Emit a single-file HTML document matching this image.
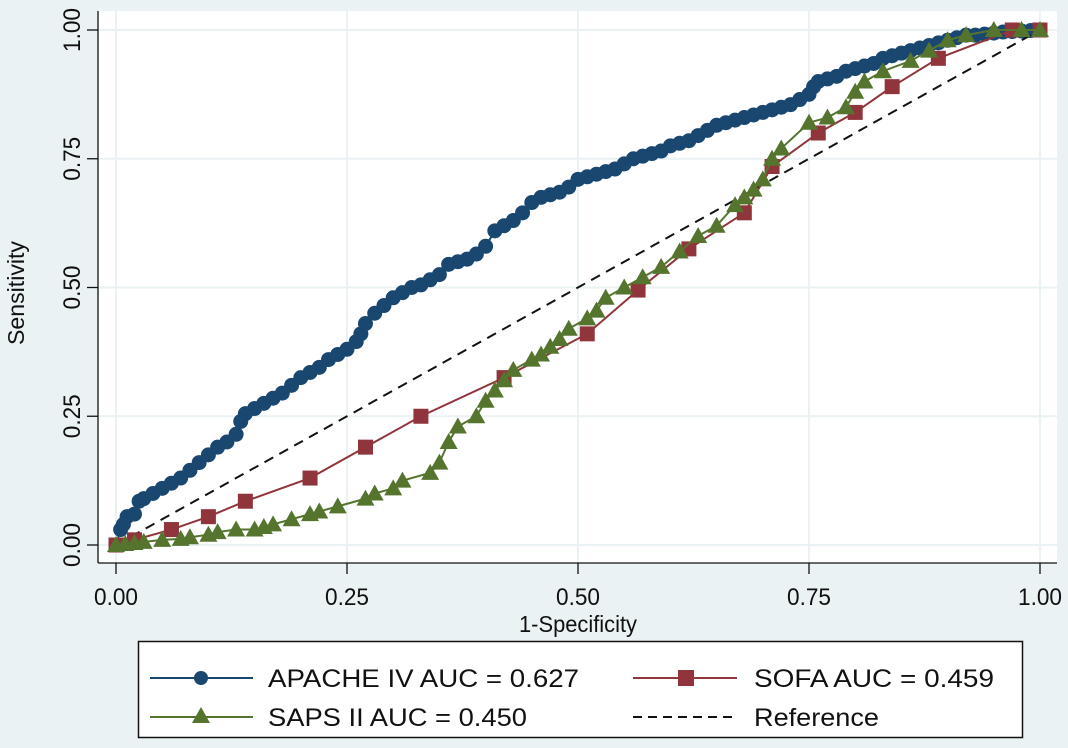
<!DOCTYPE html>
<html><head><meta charset="utf-8"><style>
html,body{margin:0;padding:0;background:#eaf2f3;}
svg{display:block;font-family:"Liberation Sans Narrow","Liberation Sans",sans-serif;}
</style></head><body>
<svg id="chart" width="1068" height="748" viewBox="0 0 1068 748" xmlns="http://www.w3.org/2000/svg">
<rect x="0" y="0" width="1068" height="748" fill="#eaf2f3"/>
<rect x="98" y="11" width="959" height="552" fill="#ffffff"/>
<g id="grid"></g>
<g id="series"></g>
<g id="axes"></g>
<text x="578" y="632" font-size="23" text-anchor="middle" fill="#111" textLength="118" lengthAdjust="spacingAndGlyphs">1-Specificity</text>
<text transform="translate(24,293) rotate(-90)" font-size="23" text-anchor="middle" fill="#111" textLength="104" lengthAdjust="spacingAndGlyphs">Sensitivity</text>
<g>
<rect x="138.5" y="641.5" width="884" height="96" fill="#fff" stroke="#111" stroke-width="1.5"/>
<g>
<line x1="150" y1="678" x2="253" y2="678" stroke="#1a476f" stroke-width="2"/>
<circle cx="201" cy="678" r="7" fill="#1a476f"/>
<text x="268" y="687" font-size="25" fill="#111" textLength="311" lengthAdjust="spacingAndGlyphs">APACHE IV AUC = 0.627</text>
</g>
<g>
<line x1="633" y1="678" x2="737" y2="678" stroke="#90353b" stroke-width="2"/>
<rect x="678" y="670" width="16" height="16" fill="#90353b"/>
<text x="754" y="687" font-size="25" fill="#111" textLength="240" lengthAdjust="spacingAndGlyphs">SOFA AUC = 0.459</text>
</g>
<g>
<line x1="150" y1="717" x2="253" y2="717" stroke="#55752f" stroke-width="2"/>
<polygon points="201,707 210,723 192,723" fill="#55752f"/>
<text x="268" y="726" font-size="25" fill="#111" textLength="259" lengthAdjust="spacingAndGlyphs">SAPS II AUC = 0.450</text>
</g>
<g>
<line x1="633" y1="717" x2="737" y2="717" stroke="#111" stroke-width="2" stroke-dasharray="9,6"/>
<text x="754" y="726" font-size="25" fill="#111" textLength="125" lengthAdjust="spacingAndGlyphs">Reference</text>
</g>
</g>
</svg>
<script>
const ticks=[0,0.25,0.5,0.75,1];
const tickLabels=["0.00","0.25","0.50","0.75","1.00"];
const apacheX=[0,0.005,0.008,0.012,0.02,0.025,0.03,0.04,0.05,0.06,0.07,0.08,0.09,0.1,0.11,0.12,0.13,0.135,0.14,0.15,0.16,0.17,0.18,0.19,0.2,0.21,0.22,0.23,0.24,0.25,0.26,0.265,0.27,0.28,0.29,0.3,0.31,0.32,0.33,0.34,0.35,0.36,0.37,0.38,0.39,0.4,0.41,0.42,0.43,0.44,0.45,0.46,0.47,0.48,0.49,0.5,0.51,0.52,0.53,0.54,0.55,0.56,0.57,0.58,0.59,0.6,0.61,0.62,0.63,0.64,0.65,0.66,0.67,0.68,0.69,0.7,0.71,0.72,0.73,0.74,0.75,0.755,0.76,0.77,0.78,0.79,0.8,0.81,0.82,0.83,0.84,0.85,0.86,0.87,0.88,0.89,0.9,0.91,0.92,0.93,0.94,0.95,0.96,0.97,0.98,0.99,1];
const apacheY=[0,0.03,0.04,0.055,0.06,0.085,0.09,0.1,0.11,0.12,0.13,0.145,0.16,0.175,0.19,0.2,0.215,0.24,0.255,0.265,0.275,0.285,0.295,0.31,0.325,0.335,0.345,0.36,0.37,0.38,0.395,0.41,0.43,0.45,0.465,0.48,0.49,0.5,0.505,0.515,0.525,0.545,0.55,0.555,0.565,0.58,0.61,0.62,0.63,0.645,0.665,0.675,0.68,0.685,0.695,0.71,0.715,0.72,0.725,0.73,0.74,0.75,0.755,0.76,0.765,0.775,0.78,0.785,0.795,0.805,0.815,0.82,0.825,0.83,0.835,0.84,0.845,0.85,0.855,0.865,0.875,0.89,0.9,0.905,0.91,0.92,0.925,0.93,0.935,0.945,0.95,0.955,0.96,0.965,0.97,0.975,0.98,0.985,0.99,0.99,0.992,0.994,0.996,0.997,0.998,0.999,1];
const sofaX=[0,0.02,0.06,0.1,0.14,0.21,0.27,0.33,0.42,0.51,0.565,0.62,0.68,0.71,0.76,0.8,0.84,0.89,0.97,1];
const sofaY=[0,0.01,0.03,0.055,0.085,0.13,0.19,0.25,0.325,0.41,0.495,0.575,0.645,0.735,0.8,0.84,0.89,0.945,1,1];
const sapsX=[0,0.01,0.02,0.03,0.05,0.07,0.08,0.1,0.11,0.13,0.15,0.16,0.17,0.19,0.21,0.22,0.24,0.27,0.28,0.3,0.31,0.34,0.35,0.36,0.37,0.39,0.4,0.41,0.42,0.43,0.45,0.46,0.47,0.48,0.49,0.51,0.52,0.53,0.55,0.57,0.59,0.61,0.63,0.65,0.67,0.68,0.69,0.7,0.71,0.72,0.75,0.77,0.79,0.8,0.81,0.83,0.86,0.88,0.9,0.92,0.95,0.98,1];
const sapsY=[0,0.002,0.004,0.006,0.01,0.012,0.015,0.02,0.025,0.03,0.03,0.035,0.04,0.05,0.06,0.065,0.075,0.09,0.1,0.11,0.125,0.14,0.16,0.2,0.23,0.25,0.28,0.3,0.32,0.34,0.36,0.37,0.385,0.4,0.42,0.44,0.455,0.48,0.5,0.52,0.54,0.57,0.6,0.62,0.66,0.675,0.69,0.71,0.75,0.77,0.82,0.83,0.85,0.88,0.9,0.92,0.94,0.96,0.98,0.99,1,1,1];
const NS="http://www.w3.org/2000/svg";
const X0=116,X1=1040,Y0=545,Y1=30;
function sx(v){return X0+(X1-X0)*v;}
function sy(v){return Y0-(Y0-Y1)*v;}
function mk(tag,attrs,parent){const e=document.createElementNS(NS,tag);for(const k in attrs)e.setAttribute(k,attrs[k]);parent.appendChild(e);return e;}
const grid=document.getElementById('grid'),axes=document.getElementById('axes'),ser=document.getElementById('series');
ticks.forEach((t,i)=>{
  const gv=mk('line',{x1:sx(t),x2:sx(t),y1:11,y2:563,stroke:'#eaf2f3','stroke-width':2},grid);
  
  
  const gh=mk('line',{x1:98,x2:1057,y1:sy(t),y2:sy(t),stroke:'#eaf2f3','stroke-width':2},grid);
  
  
  const tx=mk('line',{x1:sx(t),x2:sx(t),y1:563,y2:574,stroke:'#111','stroke-width':1.3},axes);
  
  
  const lx=mk('text',{x:sx(t),y:605,'font-size':24,'text-anchor':'middle',fill:'#111',textLength:44,lengthAdjust:'spacingAndGlyphs'},axes);
  lx.textContent=tickLabels[i];
  
  
  const ty=mk('line',{x1:87,x2:98,y1:sy(t),y2:sy(t),stroke:'#111','stroke-width':1.3},axes);
  
  
  const ly=mk('text',{transform:`translate(80,${sy(t)}) rotate(-90)`,'font-size':24,'text-anchor':'middle',fill:'#111',textLength:44,lengthAdjust:'spacingAndGlyphs'},axes);
  ly.textContent=tickLabels[i];
  
  
});
const ax=mk('line',{x1:98,x2:1057,y1:563,y2:563,stroke:'#111','stroke-width':1.3},axes);


const ay=mk('line',{x1:98,x2:98,y1:11,y2:563,stroke:'#111','stroke-width':1.3},axes);


function pts(xs,ys){return xs.map((x,i)=>sx(x)+','+sy(ys[i])).join(' ');}
const la=mk('polyline',{points:pts(apacheX,apacheY),fill:'none',stroke:'#1a476f','stroke-width':2},ser);


apacheX.forEach((x,i)=>{const c=mk('circle',{cx:sx(x),cy:sy(apacheY[i]),r:7.5,fill:'#1a476f'},ser);
  
  });
const rf=mk('line',{x1:sx(0),y1:sy(0),x2:sx(1),y2:sy(1),stroke:'#111','stroke-width':2,'stroke-dasharray':'10,7'},ser);


const ls=mk('polyline',{points:pts(sofaX,sofaY),fill:'none',stroke:'#90353b','stroke-width':2},ser);


sofaX.forEach((x,i)=>{const r=mk('rect',{x:sx(x)-7.5,y:sy(sofaY[i])-7.5,width:15,height:15,fill:'#90353b'},ser);
  
  });
const lp=mk('polyline',{points:pts(sapsX,sapsY),fill:'none',stroke:'#55752f','stroke-width':2},ser);


sapsX.forEach((x,i)=>{const px=sx(x),py=sy(sapsY[i]);const t=mk('polygon',{points:`${px},${py-9} ${px+9},${py+7} ${px-9},${py+7}`,fill:'#55752f'},ser);
  
  });
</script>
</body></html>
